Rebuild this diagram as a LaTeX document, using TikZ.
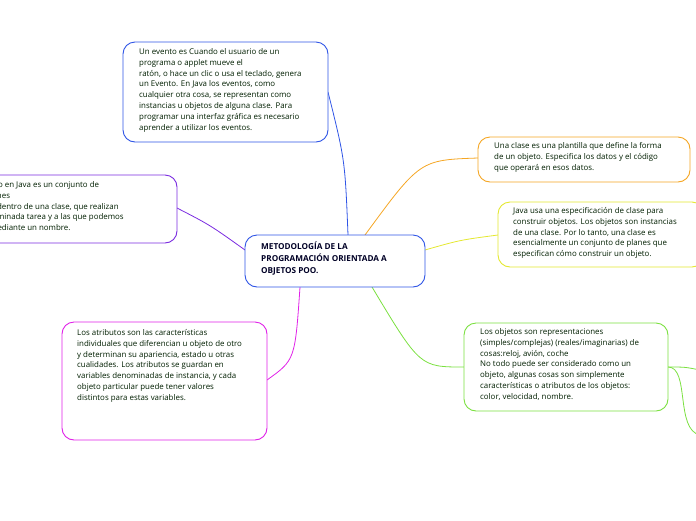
\documentclass[tikz,border=0pt]{standalone}
\usepackage{fontspec}
\setmainfont{Open Sans}
\begin{document}
\begin{tikzpicture}[x=1pt,y=-1pt,
 box/.style={line width=0.9pt,rounded corners=12pt,fill=white},
 txt/.style={anchor=north west,align=left,font=\fontsize{7.9}{10.9}\selectfont,text=black!80!green!60!black,inner sep=0pt},
 con/.style={line width=0.8pt}]
\definecolor{cblue}{HTML}{2F55E6}\definecolor{cpurp}{HTML}{7A2BE0}
\definecolor{cmag}{HTML}{E020E8}\definecolor{corg}{HTML}{F5A623}
\definecolor{cyel}{HTML}{E4E830}\definecolor{cgrn}{HTML}{7BE040}
\useasboundingbox (0,0) rectangle (696,520);
\clip (0,0) rectangle (696,520);
\coordinate (cT) at (348,235);\coordinate (cL) at (245,250);\coordinate (cB) at (300,287);
\coordinate (cTR) at (365,235);\coordinate (cR) at (425,250);\coordinate (cBR) at (372,287);
\coordinate (eR) at (328,92);\coordinate (mR) at (177,208);\coordinate (aR) at (267,380);
\coordinate (kL) at (478,158);\coordinate (jL) at (498,235);\coordinate (oL) at (464,367);
\coordinate (oR) at (668,367);\coordinate (g1) at (700,370);\coordinate (g2) at (700,435);
\draw[con,cblue] (cT) .. controls (345,160) .. (eR);
\draw[con,cpurp] (cL) .. controls (210,225) .. (mR);
\draw[con,cmag] (cB) .. controls (295,360) .. (aR);
\draw[con,corg] (cTR) .. controls (420,160) .. (kL);
\draw[con,cyel] (cR) .. controls (460,240) .. (jL);
\draw[con,cgrn] (cBR) .. controls (420,367) .. (oL);
\draw[con,cgrn] (oR) .. controls (685,367) .. (g1);
\draw[con,cgrn] (oR) .. controls (690,367) and (675,430) .. (g2);
\draw[box,draw=cblue] (245,235) rectangle (425,287);
\node[txt,font=\fontsize{8.2}{12}\selectfont\bfseries,text=black!85!blue] (c) at (261,242) {METODOLOGÍA DE LA\\PROGRAMACIÓN ORIENTADA A\\OBJETOS POO.};
\draw[box,draw=cblue] (123,42) rectangle (328,142);
\node[txt] (e) at (139,48) {Un evento es Cuando el usuario de un\\programa o applet mueve el\\ ratón, o hace un clic o usa el teclado, genera\\un Evento. En Java los eventos, como\\cualquier otra cosa, se representan como\\instancias u objetos de alguna clase. Para\\programar una interfaz gráfica es necesario\\aprender a utilizar los eventos.};
\draw[box,draw=cpurp] (-30,175) rectangle (177,243);
\node[txt] (m) at (-39,181) {Un método en Java es un conjunto de\\instrucciones\\definidas dentro de una clase, que realizan\\una determinada tarea y a las que podemos\\invocar mediante un nombre.};
\draw[box,draw=cmag] (62,322) rectangle (267,440);
\node[txt] (a) at (77,329) {Los atributos son las características\\individuales que diferencian u objeto de otro\\y determinan su apariencia, estado u otras\\cualidades. Los atributos se guardan en\\variables denominadas de instancia, y cada\\objeto particular puede tener valores\\distintos para estas variables.};
\draw[box,draw=corg] (478,137) rectangle (690,182);
\node[txt] (k) at (494,142) {Una clase es una plantilla que define la forma\\de un objeto. Especifica los datos y el código\\que operará en esos datos.};
\draw[box,draw=cyel] (498,202) rectangle (704,267);
\node[txt] (j) at (513,207) {Java usa una especificación de clase para\\construir objetos. Los objetos son instancias\\de una clase. Por lo tanto, una clase es\\esencialmente un conjunto de planes que\\especifican cómo construir un objeto.};
\draw[box,draw=cgrn] (464,323) rectangle (668,411);
\node[txt] (o) at (480,328) {Los objetos son representaciones\\(simples/complejas) (reales/imaginarias) de\\cosas:reloj, avión, coche\\No todo puede ser considerado como un\\objeto, algunas cosas son simplemente\\características o atributos de los objetos:\\color, velocidad, nombre.};
\end{tikzpicture}
\end{document}
